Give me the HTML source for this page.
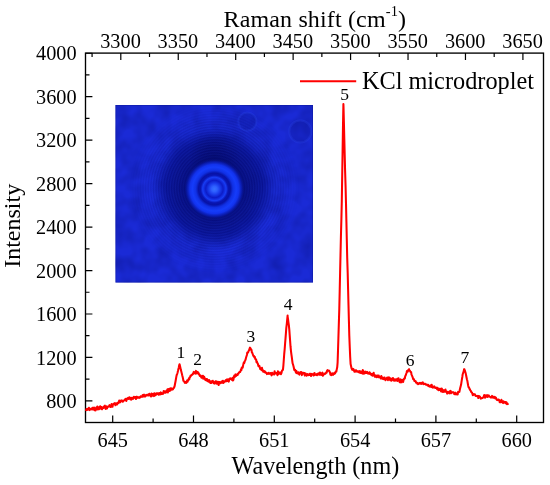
<!DOCTYPE html>
<html><head><meta charset="utf-8"><title>KCl microdroplet spectrum</title>
<style>
html,body{margin:0;padding:0;background:#fff;}
body{width:550px;height:485px;overflow:hidden;}
svg{display:block;font-family:"Liberation Serif","Times New Roman",serif;fill:#000;}
.tl text{font-size:20.3px;}
.ax text{font-size:24px;}
.pk text{font-size:17.5px;}
</style></head><body>
<svg width="550" height="485" viewBox="0 0 550 485">
<defs>
<radialGradient id="halo" gradientUnits="userSpaceOnUse" cx="214.5" cy="187" r="64">
<stop offset="0" stop-color="#050c78" stop-opacity="0.9"/>
<stop offset="0.45" stop-color="#050c78" stop-opacity="0.9"/>
<stop offset="0.62" stop-color="#060e80" stop-opacity="0.86"/>
<stop offset="0.75" stop-color="#07108a" stop-opacity="0.78"/>
<stop offset="0.83" stop-color="#081290" stop-opacity="0.56"/>
<stop offset="0.91" stop-color="#0a1698" stop-opacity="0.26"/>
<stop offset="1" stop-color="#0c1aa0" stop-opacity="0"/>
</radialGradient>
<radialGradient id="cres" gradientUnits="userSpaceOnUse" cx="214.5" cy="158" r="26">
<stop offset="0" stop-color="#030860" stop-opacity="0.5"/>
<stop offset="0.5" stop-color="#030860" stop-opacity="0.3"/>
<stop offset="1" stop-color="#030860" stop-opacity="0"/>
</radialGradient>
<radialGradient id="ripple" gradientUnits="userSpaceOnUse" cx="214.5" cy="188" r="2.6" spreadMethod="repeat">
<stop offset="0" stop-color="#3050ff" stop-opacity="0.10"/>
<stop offset="0.5" stop-color="#000060" stop-opacity="0.10"/>
<stop offset="1" stop-color="#3050ff" stop-opacity="0.10"/>
</radialGradient>
<radialGradient id="ripmask" gradientUnits="userSpaceOnUse" cx="214.5" cy="188" r="85">
<stop offset="0.3" stop-color="#000"/>
<stop offset="0.42" stop-color="#fff"/>
<stop offset="0.72" stop-color="#fff"/>
<stop offset="1" stop-color="#000"/>
</radialGradient>
<mask id="rm" maskUnits="userSpaceOnUse" x="115" y="105" width="199" height="179"><rect x="115" y="105" width="199" height="179" fill="url(#ripmask)"/></mask>
<radialGradient id="rings" gradientUnits="userSpaceOnUse" cx="214.4" cy="189" r="30">
<stop offset="0" stop-color="#3872ff"/>
<stop offset="0.09" stop-color="#2e60ff"/>
<stop offset="0.19" stop-color="#1a3cec"/>
<stop offset="0.29" stop-color="#0c1cc8"/>
<stop offset="0.39" stop-color="#183cf4"/>
<stop offset="0.46" stop-color="#0915b2"/>
<stop offset="0.53" stop-color="#0712a6"/>
<stop offset="0.62" stop-color="#1030e4"/>
<stop offset="0.73" stop-color="#153cfa"/>
<stop offset="0.82" stop-color="#1232ec"/>
<stop offset="0.91" stop-color="#0b1eb8" stop-opacity="0.8"/>
<stop offset="1" stop-color="#07128c" stop-opacity="0"/>
</radialGradient>
<filter id="mottle" x="0" y="0" width="100%" height="100%" color-interpolation-filters="sRGB">
<feTurbulence type="fractalNoise" baseFrequency="0.07" numOctaves="2" seed="4" result="n"/>
<feColorMatrix in="n" type="matrix" values="0 0 0 0 0.03  0 0 0 0 0.06  0 0 0 0 0.5  0.66 0 0 0 -0.21"/>
</filter>
<clipPath id="imgclip"><rect x="115.5" y="105" width="197.5" height="177.5"/></clipPath>
</defs>
<rect width="550" height="485" fill="#fff"/>
<g clip-path="url(#imgclip)">
<rect x="115" y="104" width="199" height="180" fill="#1a2ad6"/>
<rect x="115" y="104" width="199" height="180" filter="url(#mottle)"/>
<circle cx="247.4" cy="121.6" r="9" fill="#0c1698" fill-opacity="0.35" stroke="#2a44e6" stroke-opacity="0.3" stroke-width="2.2"/>
<circle cx="300.3" cy="131.4" r="11" fill="#0c1698" fill-opacity="0.3" stroke="#2a44e6" stroke-opacity="0.28" stroke-width="2.2"/>
<rect x="115" y="104" width="199" height="180" fill="url(#halo)"/>
<rect x="115" y="104" width="199" height="180" fill="url(#cres)"/>
<rect x="115" y="104" width="199" height="180" fill="url(#ripple)" mask="url(#rm)"/>
<circle cx="214.4" cy="189" r="30" fill="url(#rings)"/>
<rect x="115.5" y="105" width="197.5" height="177.5" fill="none" stroke="#0a1490" stroke-opacity="0.5" stroke-width="1.4"/>
</g>
<rect x="85.5" y="53.1" width="458.0" height="369.4" fill="none" stroke="#000" stroke-width="1.35"/>
<path d="M112.70 422.5 V415.6 M193.50 422.5 V415.6 M274.30 422.5 V415.6 M355.10 422.5 V415.6 M435.90 422.5 V415.6 M516.70 422.5 V415.6 M153.10 422.5 V418.5 M233.90 422.5 V418.5 M314.70 422.5 V418.5 M395.50 422.5 V418.5 M476.30 422.5 V418.5 M85.5 400.90 H92.4 M85.5 357.44 H92.4 M85.5 313.99 H92.4 M85.5 270.53 H92.4 M85.5 227.07 H92.4 M85.5 183.61 H92.4 M85.5 140.16 H92.4 M85.5 96.70 H92.4 M85.5 53.24 H92.4 M85.5 379.17 H89.5 M85.5 335.71 H89.5 M85.5 292.26 H89.5 M85.5 248.80 H89.5 M85.5 205.34 H89.5 M85.5 161.89 H89.5 M85.5 118.43 H89.5 M85.5 74.97 H89.5 M120.80 53.1 V60.0 M178.25 53.1 V60.0 M235.69 53.1 V60.0 M293.13 53.1 V60.0 M350.58 53.1 V60.0 M408.03 53.1 V60.0 M465.47 53.1 V60.0 M522.91 53.1 V60.0 M92.08 53.1 V57.1 M149.52 53.1 V57.1 M206.97 53.1 V57.1 M264.41 53.1 V57.1 M321.86 53.1 V57.1 M379.30 53.1 V57.1 M436.75 53.1 V57.1 M494.19 53.1 V57.1" stroke="#000" stroke-width="1.2" fill="none"/>
<polyline points="86.0,411.0 86.4,409.1 86.8,409.5 87.3,409.8 87.7,408.7 88.1,409.4 88.5,409.3 88.9,407.8 89.4,410.1 89.8,409.7 90.2,408.7 90.6,409.0 91.0,409.5 91.5,408.9 91.9,408.8 92.3,407.8 92.7,409.4 93.1,409.0 93.6,409.1 94.0,407.6 94.4,410.2 94.8,408.9 95.2,408.4 95.7,410.4 96.1,408.6 96.5,407.4 96.9,408.3 97.3,406.6 97.8,409.4 98.2,408.1 98.6,407.8 99.0,409.3 99.4,406.9 99.9,408.6 100.3,406.3 100.7,407.4 101.1,406.9 101.5,409.1 102.0,409.3 102.4,407.4 102.8,408.3 103.2,407.4 103.6,407.9 104.1,406.7 104.5,405.8 104.9,405.6 105.3,407.4 105.7,408.9 106.2,407.2 106.6,406.4 107.0,408.4 107.4,406.9 107.8,406.7 108.3,406.7 108.7,406.3 109.1,406.1 109.5,405.1 109.9,406.6 110.4,406.0 110.8,407.0 111.2,405.5 111.6,404.0 112.0,405.4 112.5,406.7 112.9,404.7 113.3,404.1 113.7,403.7 114.1,403.6 114.6,404.0 115.0,403.1 115.4,405.2 115.8,403.5 116.2,403.6 116.7,404.5 117.1,404.4 117.5,402.7 117.9,403.0 118.3,403.1 118.8,402.2 119.2,400.6 119.6,402.5 120.0,402.5 120.4,401.9 120.9,400.6 121.3,401.0 121.7,400.4 122.1,400.5 122.5,401.7 123.0,401.7 123.4,400.8 123.8,400.6 124.2,400.5 124.6,399.8 125.1,399.5 125.5,398.9 125.9,399.2 126.3,401.0 126.7,399.7 127.2,398.5 127.6,398.3 128.0,397.9 128.4,398.9 128.8,398.8 129.3,397.2 129.7,398.8 130.1,397.8 130.5,399.5 130.9,398.3 131.4,399.6 131.8,397.7 132.2,397.8 132.6,398.2 133.0,398.8 133.5,398.3 133.9,396.7 134.3,397.9 134.7,397.7 135.1,397.3 135.6,397.0 136.0,399.0 136.4,397.1 136.8,396.7 137.2,397.9 137.7,397.4 138.1,397.1 138.5,397.8 138.9,397.5 139.3,397.3 139.8,397.8 140.2,397.2 140.6,396.3 141.0,396.5 141.4,396.3 141.9,396.9 142.3,395.7 142.7,395.0 143.1,396.5 143.5,395.2 144.0,394.6 144.4,396.5 144.8,395.5 145.2,396.5 145.6,395.5 146.1,395.0 146.5,394.8 146.9,395.3 147.3,395.5 147.7,394.9 148.2,395.3 148.6,394.2 149.0,395.4 149.4,393.8 149.8,395.1 150.3,395.7 150.7,396.0 151.1,396.5 151.5,393.6 151.9,395.5 152.4,395.8 152.8,395.5 153.2,393.8 153.6,394.9 154.0,396.1 154.5,393.2 154.9,394.8 155.3,395.3 155.7,393.7 156.1,394.7 156.6,393.2 157.0,393.4 157.4,393.3 157.8,394.1 158.2,393.8 158.7,394.7 159.1,393.0 159.5,393.6 159.9,394.5 160.3,394.1 160.8,392.4 161.2,394.1 161.6,393.0 162.0,393.6 162.4,393.4 162.9,394.0 163.3,392.9 163.7,391.0 164.1,391.2 164.5,392.8 165.0,391.8 165.4,392.8 165.8,391.9 166.2,390.9 166.6,392.2 167.1,390.5 167.5,389.2 167.9,392.5 168.3,389.0 168.7,391.0 169.2,391.0 169.6,390.2 170.0,388.5 170.4,390.6 170.8,388.3 171.3,388.2 171.7,388.8 172.1,389.6 172.5,389.0 172.9,389.3 173.4,388.0 173.8,388.1 174.2,387.3 174.6,386.2 175.0,384.0 175.5,381.5 175.9,379.3 176.3,376.9 176.7,375.0 177.1,374.1 177.6,372.5 178.0,370.8 178.4,368.9 178.8,367.4 179.2,365.2 179.5,364.2 179.7,364.7 180.1,366.4 180.5,368.3 180.9,370.1 181.3,371.6 181.8,373.4 182.2,375.2 182.6,376.8 183.0,378.5 183.4,380.9 183.9,381.1 184.3,381.7 184.7,382.6 185.1,382.9 185.5,381.9 186.0,382.0 186.4,382.9 186.8,382.0 187.2,380.2 187.6,381.7 188.1,380.2 188.5,380.1 188.9,378.2 189.3,379.2 189.7,377.3 190.2,377.0 190.6,375.6 191.0,375.9 191.4,375.3 191.8,374.8 192.3,374.7 192.7,373.9 193.1,374.0 193.5,372.4 193.9,371.8 194.4,372.6 194.8,373.1 195.2,373.6 195.6,373.1 196.0,370.9 196.5,372.7 196.9,373.5 197.3,372.3 197.7,371.9 198.1,373.1 198.6,373.1 199.0,374.4 199.4,374.5 199.8,375.9 200.2,375.9 200.7,375.6 201.1,377.0 201.5,377.6 201.9,376.6 202.3,377.0 202.8,375.7 203.2,378.7 203.6,377.7 204.0,376.6 204.4,377.2 204.9,378.8 205.3,379.9 205.7,379.5 206.1,380.2 206.5,379.1 207.0,379.0 207.4,381.1 207.8,380.9 208.2,380.6 208.6,381.8 209.1,380.1 209.5,380.7 209.9,382.0 210.3,382.9 210.7,381.5 211.2,383.0 211.6,381.2 212.0,382.1 212.4,381.9 212.8,380.8 213.3,382.5 213.7,383.2 214.1,382.3 214.5,382.4 214.9,383.6 215.4,381.4 215.8,381.2 216.2,382.0 216.6,381.5 217.0,383.7 217.5,382.8 217.9,381.8 218.3,382.1 218.7,385.0 219.1,382.1 219.6,382.0 220.0,382.9 220.4,383.2 220.8,382.9 221.2,381.8 221.7,381.5 222.1,382.8 222.5,382.1 222.9,380.7 223.3,382.9 223.8,382.5 224.2,381.5 224.6,381.3 225.0,381.6 225.4,380.7 225.9,380.0 226.3,381.3 226.7,379.6 227.1,381.1 227.5,379.4 228.0,380.4 228.4,380.2 228.8,381.6 229.2,379.0 229.6,378.6 230.1,379.0 230.5,378.4 230.9,378.7 231.3,379.4 231.7,379.5 232.2,380.1 232.6,377.8 233.0,380.5 233.4,379.8 233.8,377.6 234.3,375.5 234.7,377.0 235.1,376.7 235.5,374.4 235.9,376.0 236.4,375.4 236.8,374.5 237.2,375.2 237.6,375.0 238.0,373.6 238.5,373.6 238.9,372.6 239.3,372.1 239.7,372.2 240.1,372.0 240.6,370.9 241.0,369.3 241.4,370.0 241.8,367.5 242.2,367.6 242.7,367.6 243.1,365.4 243.5,363.6 243.9,362.3 244.3,363.0 244.8,361.1 245.2,360.4 245.6,359.5 246.0,357.8 246.4,356.5 246.9,355.0 247.3,352.5 247.7,352.5 248.1,352.4 248.5,351.2 249.0,350.5 249.4,349.1 249.8,348.2 250.0,347.6 250.2,348.6 250.6,348.4 251.1,349.8 251.5,349.8 251.9,352.5 252.3,352.8 252.7,354.0 253.2,355.5 253.6,356.0 254.0,356.1 254.4,357.5 254.8,356.9 255.3,358.9 255.7,359.6 256.1,359.3 256.5,362.0 256.9,361.5 257.4,363.3 257.8,363.4 258.2,365.2 258.6,366.3 259.0,365.7 259.5,366.1 259.9,367.9 260.3,369.1 260.7,368.7 261.1,368.9 261.6,370.1 262.0,367.8 262.4,370.2 262.8,370.1 263.2,371.7 263.7,371.2 264.1,371.1 264.5,372.0 264.9,371.3 265.3,372.7 265.8,372.4 266.2,372.9 266.6,372.7 267.0,374.1 267.4,373.3 267.9,373.8 268.3,373.8 268.7,372.7 269.1,373.9 269.5,373.7 270.0,373.7 270.4,373.1 270.8,373.1 271.2,374.2 271.6,375.4 272.1,372.8 272.5,374.0 272.9,373.3 273.3,374.3 273.7,374.0 274.2,374.5 274.6,371.2 275.0,373.1 275.4,372.8 275.8,373.5 276.3,373.0 276.7,373.1 277.1,374.2 277.5,375.2 277.9,371.2 278.4,373.3 278.8,373.9 279.2,373.6 279.6,373.3 280.0,372.4 280.5,372.8 280.9,374.2 281.3,373.5 281.7,372.0 282.1,370.5 282.6,370.3 283.0,369.3 283.4,365.3 283.8,359.8 284.2,354.2 284.7,348.9 285.1,343.5 285.5,338.6 285.9,333.4 286.3,327.9 286.8,323.8 287.2,319.5 287.6,315.5 287.6,316.4 288.0,318.9 288.4,322.1 288.9,325.6 289.3,329.6 289.7,335.1 290.1,340.6 290.5,346.2 291.0,351.3 291.4,354.3 291.8,357.2 292.2,360.3 292.6,363.3 293.1,364.8 293.5,366.2 293.9,368.0 294.3,370.1 294.7,370.2 295.2,369.9 295.6,371.4 296.0,372.8 296.4,371.0 296.8,373.1 297.3,373.0 297.7,372.6 298.1,373.8 298.5,372.3 298.9,373.7 299.4,374.6 299.8,373.7 300.2,372.8 300.6,372.1 301.0,372.6 301.5,372.1 301.9,375.1 302.3,373.6 302.7,372.9 303.1,372.8 303.6,373.0 304.0,373.7 304.4,373.0 304.8,375.5 305.2,373.5 305.7,373.6 306.1,374.6 306.5,375.6 306.9,375.6 307.3,374.1 307.8,374.8 308.2,374.8 308.6,375.1 309.0,375.0 309.4,374.0 309.9,373.8 310.3,375.0 310.7,373.9 311.1,376.0 311.5,374.8 312.0,373.9 312.4,374.5 312.8,374.3 313.2,374.6 313.6,375.5 314.1,373.4 314.5,373.0 314.9,374.9 315.3,374.4 315.7,374.7 316.2,374.9 316.6,374.3 317.0,375.2 317.4,373.7 317.8,374.5 318.3,373.7 318.7,373.4 319.1,374.8 319.5,374.7 319.9,372.5 320.4,373.1 320.8,374.3 321.2,374.9 321.6,373.3 322.0,373.7 322.5,372.6 322.9,375.8 323.3,374.0 323.7,374.3 324.1,374.1 324.6,374.2 325.0,373.9 325.4,373.0 325.8,373.3 326.2,372.3 326.7,372.5 327.1,370.6 327.5,370.1 327.9,370.5 328.3,370.8 328.8,370.6 329.2,370.7 329.6,371.9 330.0,372.3 330.4,374.6 330.9,374.9 331.3,375.2 331.7,374.2 332.1,373.3 332.5,374.7 333.0,374.9 333.4,373.9 333.8,373.2 334.2,374.0 334.6,372.7 335.1,373.5 335.5,372.1 335.9,371.4 336.3,371.7 336.7,369.6 337.2,367.3 337.6,362.7 338.0,350.7 338.4,338.0 338.8,324.7 339.3,308.6 339.7,290.9 340.1,272.7 340.5,255.0 340.9,237.1 341.4,218.8 341.8,201.1 342.2,176.1 342.6,151.0 343.0,125.6 343.4,104.1 343.5,106.5 343.9,122.4 344.3,138.7 344.7,154.7 345.1,170.8 345.6,187.1 346.0,203.5 346.4,221.4 346.8,239.5 347.2,257.5 347.7,273.3 348.1,289.3 348.5,305.1 348.9,320.6 349.3,335.8 349.8,348.1 350.2,357.2 350.6,364.0 351.0,365.8 351.4,367.8 351.9,369.0 352.3,369.9 352.7,368.8 353.1,369.5 353.5,369.1 354.0,370.4 354.4,371.7 354.8,371.1 355.2,371.7 355.6,370.2 356.1,370.3 356.5,370.7 356.9,371.7 357.3,371.6 357.7,371.3 358.2,371.9 358.6,371.3 359.0,371.4 359.4,372.6 359.8,371.1 360.3,371.8 360.7,373.0 361.1,371.8 361.5,372.4 361.9,371.3 362.4,373.6 362.8,370.1 363.2,371.2 363.6,371.4 364.0,373.7 364.5,372.8 364.9,372.3 365.3,371.6 365.7,373.1 366.1,373.0 366.6,372.4 367.0,371.8 367.4,372.2 367.8,373.5 368.2,373.7 368.7,373.6 369.1,373.5 369.5,372.2 369.9,374.0 370.3,373.2 370.8,374.3 371.2,374.8 371.6,374.0 372.0,373.9 372.4,375.7 372.9,375.3 373.3,374.7 373.7,372.8 374.1,375.5 374.5,376.2 375.0,376.8 375.4,375.4 375.8,375.6 376.2,376.0 376.6,377.2 377.1,375.5 377.5,376.5 377.9,375.9 378.3,377.1 378.7,375.6 379.2,377.3 379.6,376.7 380.0,377.0 380.4,377.7 380.8,378.4 381.3,376.0 381.7,378.4 382.1,378.1 382.5,377.5 382.9,379.0 383.4,378.1 383.8,379.1 384.2,377.6 384.6,377.5 385.0,379.3 385.5,380.2 385.9,379.0 386.3,379.3 386.7,378.2 387.1,377.6 387.6,378.6 388.0,380.2 388.4,377.4 388.8,378.7 389.2,377.5 389.7,379.3 390.1,380.1 390.5,378.4 390.9,379.2 391.3,380.7 391.8,379.5 392.2,378.6 392.6,378.5 393.0,378.0 393.4,380.4 393.9,379.1 394.3,380.7 394.7,380.6 395.1,379.3 395.5,379.5 396.0,380.6 396.4,380.1 396.8,380.3 397.2,378.7 397.6,380.9 398.1,379.5 398.5,378.3 398.9,379.8 399.3,380.7 399.7,382.2 400.2,380.2 400.6,379.4 401.0,382.4 401.4,380.8 401.8,380.5 402.3,379.8 402.7,380.0 403.1,382.1 403.5,380.2 403.9,379.1 404.4,378.2 404.8,378.6 405.2,376.2 405.6,375.7 406.0,374.3 406.5,373.0 406.9,371.1 407.3,371.6 407.7,371.7 408.1,370.3 408.6,369.5 409.0,369.2 409.4,370.5 409.8,370.5 410.2,371.3 410.7,372.1 411.1,372.0 411.5,374.6 411.9,375.4 412.3,376.3 412.8,377.7 413.2,379.1 413.6,379.1 414.0,379.2 414.4,381.1 414.9,380.7 415.3,381.1 415.7,381.2 416.1,382.8 416.5,382.5 417.0,382.9 417.4,383.7 417.8,383.4 418.2,384.2 418.6,383.6 419.1,383.0 419.5,383.0 419.9,382.8 420.3,383.8 420.7,383.3 421.2,382.9 421.6,383.9 422.0,383.4 422.4,383.0 422.8,382.3 423.3,384.1 423.7,384.1 424.1,384.0 424.5,383.8 424.9,383.6 425.4,384.2 425.8,384.8 426.2,384.6 426.6,384.7 427.0,384.6 427.5,385.4 427.9,385.5 428.3,384.8 428.7,386.2 429.1,386.4 429.6,386.6 430.0,385.9 430.4,386.0 430.8,385.3 431.2,387.1 431.7,384.8 432.1,386.4 432.5,386.6 432.9,387.8 433.3,387.2 433.8,386.5 434.2,386.3 434.6,387.0 435.0,387.9 435.4,388.0 435.9,387.9 436.3,387.6 436.7,388.1 437.1,389.3 437.5,387.7 438.0,388.8 438.4,390.3 438.8,389.5 439.2,388.8 439.6,389.9 440.1,388.8 440.5,389.6 440.9,391.0 441.3,391.5 441.7,388.5 442.2,390.7 442.6,391.9 443.0,389.9 443.4,390.8 443.8,392.0 444.3,390.4 444.7,391.4 445.1,391.1 445.5,389.6 445.9,391.7 446.4,391.4 446.8,392.5 447.2,393.6 447.6,392.6 448.0,391.8 448.5,392.7 448.9,392.6 449.3,393.4 449.7,391.4 450.1,391.6 450.6,390.9 451.0,393.2 451.4,392.8 451.8,392.3 452.2,392.3 452.7,392.5 453.1,392.2 453.5,392.8 453.9,392.7 454.3,394.3 454.8,393.5 455.2,392.6 455.6,392.8 456.0,394.4 456.4,393.8 456.9,393.5 457.3,393.8 457.7,394.4 458.1,391.9 458.5,392.2 459.0,391.6 459.4,391.9 459.8,389.8 460.2,388.1 460.6,386.4 461.1,384.6 461.5,381.9 461.9,379.3 462.3,377.0 462.7,374.2 463.2,372.7 463.6,371.7 464.0,369.6 464.2,369.1 464.4,369.4 464.8,370.4 465.3,372.0 465.7,373.4 466.1,375.2 466.5,377.3 466.9,379.2 467.4,381.1 467.8,383.5 468.2,385.7 468.6,387.2 469.0,387.4 469.5,389.0 469.9,389.2 470.3,390.4 470.7,390.6 471.1,391.8 471.6,392.5 472.0,392.6 472.4,393.8 472.8,395.2 473.2,395.1 473.7,394.1 474.1,394.1 474.5,394.5 474.9,394.4 475.3,395.5 475.8,396.0 476.2,395.9 476.6,396.1 477.0,396.2 477.4,396.1 477.9,395.8 478.3,398.0 478.7,397.6 479.1,396.1 479.5,396.3 480.0,396.7 480.4,397.4 480.8,398.6 481.2,398.4 481.6,398.3 482.1,398.1 482.5,398.0 482.9,397.6 483.3,397.2 483.7,396.6 484.2,395.0 484.6,396.3 485.0,397.8 485.4,395.7 485.8,395.4 486.3,396.7 486.7,395.8 487.1,395.2 487.5,396.9 487.9,396.2 488.4,396.4 488.8,395.4 489.2,396.5 489.6,396.5 490.0,396.9 490.5,397.4 490.9,397.5 491.3,396.8 491.7,397.3 492.1,395.9 492.6,397.5 493.0,397.7 493.4,396.9 493.8,396.8 494.2,397.6 494.7,396.8 495.1,398.3 495.5,398.5 495.9,397.6 496.3,398.7 496.8,399.8 497.2,400.0 497.6,400.1 498.0,399.4 498.4,399.4 498.9,399.6 499.3,400.6 499.7,402.3 500.1,401.7 500.5,402.1 501.0,402.1 501.4,399.7 501.8,401.1 502.2,401.0 502.6,402.6 503.1,403.1 503.5,401.3 503.9,402.0 504.3,402.6 504.7,401.9 505.2,401.9 505.6,402.1 506.0,403.5 506.4,402.2 506.8,404.1 507.3,403.3 507.7,404.0 508.1,404.9" fill="none" stroke="#f00" stroke-width="2.05" stroke-linejoin="round" stroke-linecap="butt"/>
<g class="tl">
<text x="112.7" y="447.2" text-anchor="middle">645</text>
<text x="193.5" y="447.2" text-anchor="middle">648</text>
<text x="274.3" y="447.2" text-anchor="middle">651</text>
<text x="355.1" y="447.2" text-anchor="middle">654</text>
<text x="435.9" y="447.2" text-anchor="middle">657</text>
<text x="516.7" y="447.2" text-anchor="middle">660</text>
<text x="76.6" y="408.1" text-anchor="end">800</text>
<text x="76.6" y="364.6" text-anchor="end">1200</text>
<text x="76.6" y="321.2" text-anchor="end">1600</text>
<text x="76.6" y="277.7" text-anchor="end">2000</text>
<text x="76.6" y="234.3" text-anchor="end">2400</text>
<text x="76.6" y="190.8" text-anchor="end">2800</text>
<text x="76.6" y="147.4" text-anchor="end">3200</text>
<text x="76.6" y="103.9" text-anchor="end">3600</text>
<text x="76.6" y="60.4" text-anchor="end">4000</text>
<text x="120.5" y="48.2" text-anchor="middle">3300</text>
<text x="177.9" y="48.2" text-anchor="middle">3350</text>
<text x="235.4" y="48.2" text-anchor="middle">3400</text>
<text x="292.8" y="48.2" text-anchor="middle">3450</text>
<text x="350.3" y="48.2" text-anchor="middle">3500</text>
<text x="407.7" y="48.2" text-anchor="middle">3550</text>
<text x="465.2" y="48.2" text-anchor="middle">3600</text>
<text x="522.6" y="48.2" text-anchor="middle">3650</text>
</g>
<g class="ax">
<text x="223.5" y="26.6" letter-spacing="0.15">Raman shift (cm<tspan font-size="14.5" dy="-10.4">-1</tspan><tspan dy="10.4">)</tspan></text>
<text x="315.4" y="474" text-anchor="middle" style="font-size:24.15px">Wavelength (nm)</text>
<text transform="translate(20.3,225.8) rotate(-90)" text-anchor="middle">Intensity</text>
<text x="361.9" y="88.9" style="font-size:24.3px">KCl microdroplet</text>
</g>
<line x1="300" y1="81.2" x2="356.2" y2="81.2" stroke="#f00" stroke-width="2"/>
<g class="pk">
<text x="180.9" y="358.2" text-anchor="middle">1</text>
<text x="197.6" y="364.9" text-anchor="middle">2</text>
<text x="250.9" y="341.5" text-anchor="middle">3</text>
<text x="288.2" y="309.5" text-anchor="middle">4</text>
<text x="344.7" y="99.8" text-anchor="middle">5</text>
<text x="410" y="365.5" text-anchor="middle">6</text>
<text x="464.9" y="362.7" text-anchor="middle">7</text>
</g>
</svg>
</body></html>
